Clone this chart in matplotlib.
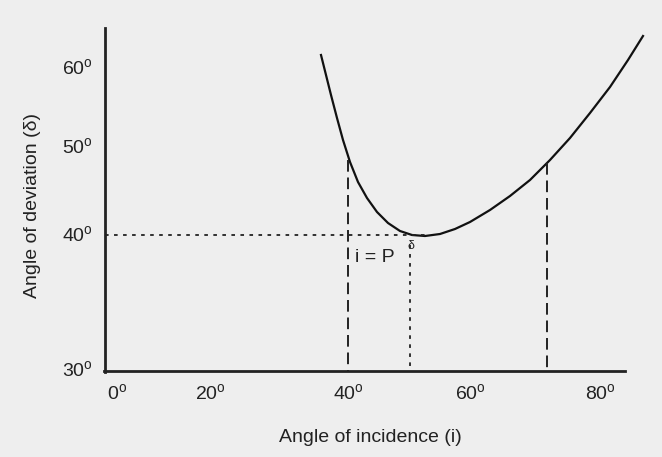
import matplotlib.pyplot as plt

plt.rcParams['font.family'] = 'Liberation Sans'

# curve in picture units (x right, y down)
curve_x = [321, 326, 331, 337, 343, 350, 358, 367, 377, 388, 400, 412, 425,
           440, 455, 470, 490, 510, 530, 550, 570, 590, 610, 628, 643]
curve_y = [55, 75, 95, 118, 140, 162, 182, 198, 212, 223, 231, 235, 236,
           234, 229, 222, 210, 196, 180, 160, 138, 113, 87, 60, 36]

y_tick_pos = [370, 235, 147, 68]
y_tick_lab = ['30', '40', '50', '60']
x_tick_pos = [117, 210, 348, 470, 600]
x_tick_lab = ['0', '20', '40', '60', '80']

fig = plt.figure(figsize=(6.62, 4.57), dpi=100)
fig.patch.set_facecolor('#eeeeee')
ax = fig.add_axes([0, 0, 1, 1])
ax.set_xlim(0, 662)
ax.set_ylim(457, 0)
ax.axis('off')

# axes
ax.plot([105, 105], [28, 372], color='#222222', lw=2)
ax.plot([104, 625], [371, 371], color='#222222', lw=2)

ax.plot(curve_x, curve_y, color='#111111', lw=1.6)

# guides
ax.plot([105, 425], [235, 235], color='#222222', lw=1.3, ls=(0, (2, 3)))
ax.plot([348, 348], [160, 371], color='#222222', lw=1.4, ls=(0, (6, 3)))
ax.plot([547, 547], [163, 371], color='#222222', lw=1.4, ls=(0, (6, 3)))
ax.plot([410, 410], [245, 371], color='#222222', lw=1.3, ls=(0, (2, 3)))

for p, l in zip(y_tick_pos, y_tick_lab):
    ax.text(93, p, r'$\mathregular{%s^o}$' % l, ha='right', va='center', fontsize=14, color='#222222')
for p, l in zip(x_tick_pos, x_tick_lab):
    ax.text(p, 393, r'$\mathregular{%s^o}$' % l, ha='center', va='center', fontsize=14, color='#222222')

ax.text(355, 258, 'i = P', ha='left', va='center', fontsize=14, color='#222222')
ax.text(408, 246, 'δ', ha='left', va='center', fontsize=9, color='#222222')

ax.text(370, 437, 'Angle of incidence (i)', ha='center', va='center', fontsize=14, color='#222222')
ax.text(33, 205, 'Angle of deviation (δ)', ha='center', va='center', rotation=90, fontsize=14, color='#222222')

fig.savefig('out.png', dpi=100, facecolor=fig.get_facecolor())
